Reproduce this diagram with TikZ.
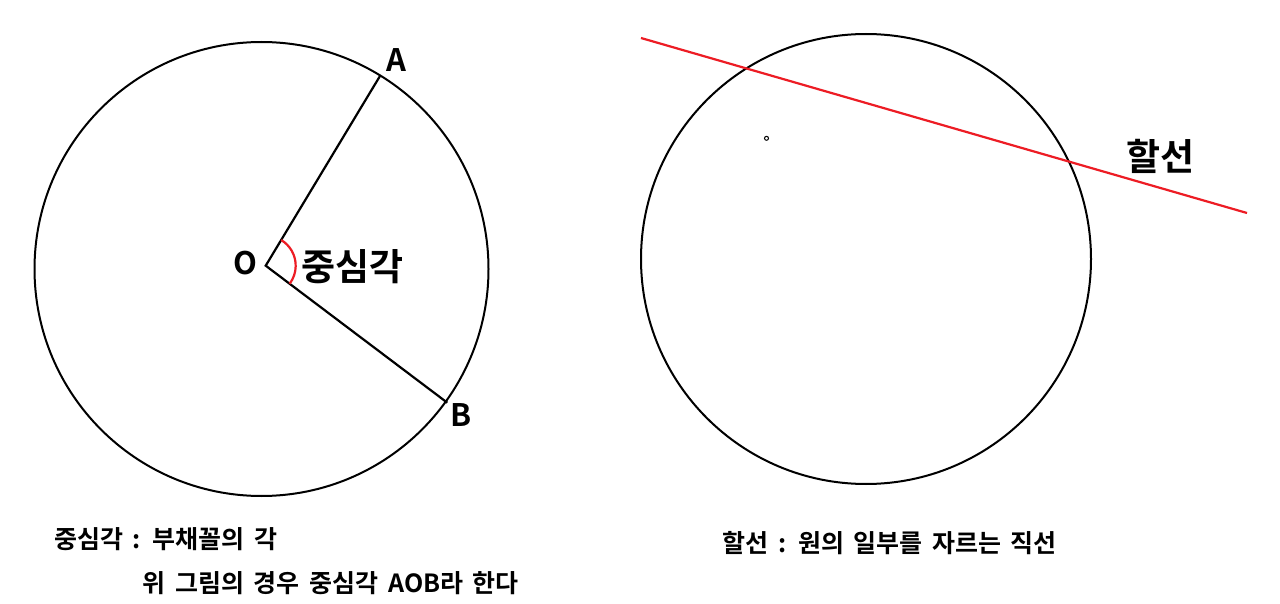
\documentclass[tikz,border=0pt]{standalone}
\usepackage{fontspec}
\newfontfamily\krb{Noto Sans CJK KR}[UprightFont={* Bold},WordSpace=2]
\newfontfamily\krn{Noto Sans CJK KR}[UprightFont={* Bold},WordSpace=1.7]
\definecolor{pred}{RGB}{237,28,36}
\tikzset{
  biglbl/.style={inner sep=0pt,font=\krb\fontsize{31}{31}\selectfont},
  bigkr/.style={inner sep=0pt,anchor=base west,font=\krb\fontsize{37}{37}\selectfont},
  note/.style={inner sep=0pt,anchor=base west,font=\krn\fontsize{25}{25}\selectfont},
  circ/.style={line width=2pt,black},
  seg/.style={line width=2.2pt,black},
  redl/.style={line width=2.2pt,pred}
}
\begin{document}
\begin{tikzpicture}[x=1pt,y=-1pt]
\useasboundingbox (0,0) rectangle (1280,604);
\fill[white] (0,0) rectangle (1280,604);
% left circle
\coordinate (C1) at (261.5,269);
\coordinate (O) at (265.7,265.7);
\coordinate (A) at (380,76);
\coordinate (B) at (447.3,402.7);
\draw[circ] (C1) circle[radius=227pt];
\draw[seg] (A) -- (O) -- (B);
\draw[redl] ([shift={(-58.9:30)}]O) arc[start angle=-58.9,end angle=37,radius=30];
\node[biglbl,anchor=base] (lO) at (245,274.5) {O};
\node[biglbl,anchor=base] (lA) at (396.5,71.7) {A};
\node[biglbl,anchor=base] (lB) at (461,426.7) {B};
\node[bigkr] (lang) at (301,280) {중심각};
% right circle
\coordinate (C2) at (866,259);
\draw[circ] (C2) circle[radius=225pt];
\coordinate (S1) at (641,38);
\coordinate (S2) at (1247,213);
\draw[redl] (S1) -- (S2);
\coordinate (dot) at (766.5,138.3);
\draw[line width=1pt] (dot) circle[radius=2pt];
\node[bigkr] (lsec) at (1126.5,171) {할선};
% notes
\node[note] (n1) at (54,548.5) {중심각 : 부채꼴의 각};
\node[note] (n2) at (142.5,592) {위 그림의 경우 중심각 AOB라 한다};
\node[note] (n3) at (722.5,552.5) {할선 : 원의 일부를 자르는 직선};
\end{tikzpicture}
\end{document}
